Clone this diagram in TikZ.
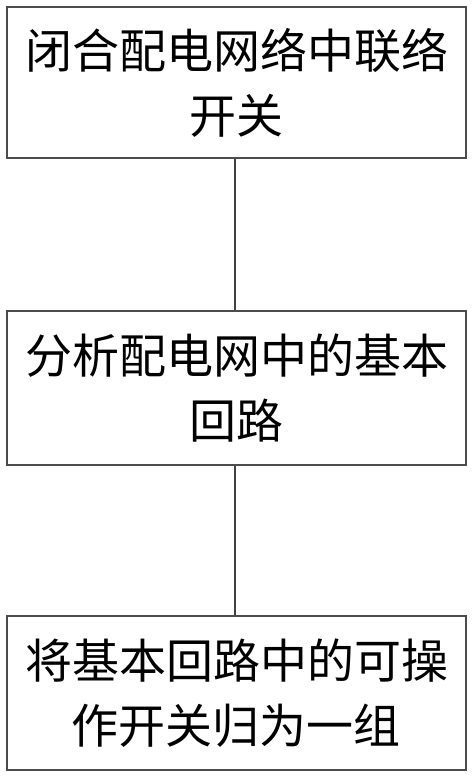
\documentclass[tikz,border=0pt]{standalone}
\usepackage{fontspec}
\newfontfamily\cjk{Noto Sans CJK SC}
\begin{document}
\begin{tikzpicture}[x=1pt,y=-1pt,
  stepbox/.style={draw=black!70,line width=1.1pt,minimum width=459pt,inner sep=0pt,align=center,
    font=\cjk\fontsize{47}{65}\selectfont},
  link/.style={draw=black!75,line width=1.1pt}]
\useasboundingbox (0,0) rectangle (474,779);
\node[stepbox,minimum height=151pt] (a) at (236.5,82.5) {闭合配电网络中联络\\开关};
\node[stepbox,minimum height=154pt] (b) at (236.5,388) {分析配电网中的基本\\回路};
\node[stepbox,minimum height=154pt] (c) at (236.5,693) {将基本回路中的可操\\作开关归为一组};
\draw[link] (a.south -| 235,0) -- (b.north -| 235,0);
\draw[link] (b.south -| 235,0) -- (c.north -| 235,0);
\end{tikzpicture}
\end{document}
